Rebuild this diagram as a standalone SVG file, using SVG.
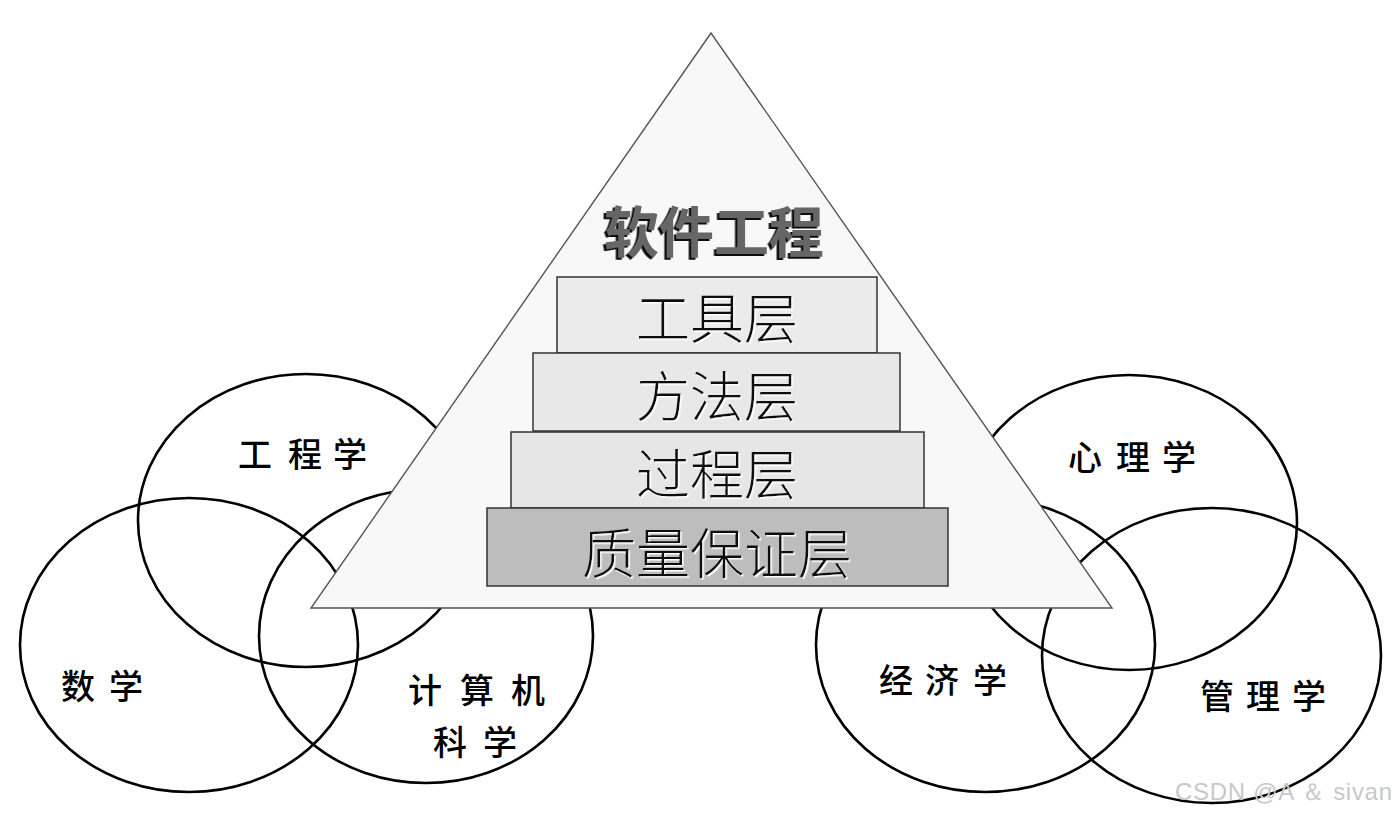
<svg xmlns="http://www.w3.org/2000/svg" width="1396" height="814" viewBox="0 0 1396 814">
<defs>
  <filter id="shadowDark" x="-10%" y="-20%" width="120%" height="140%">
    <feDropShadow dx="-2.5" dy="2" stdDeviation="0.4" flood-color="#111" flood-opacity="1"/>
  </filter>
  <filter id="emboss" x="-10%" y="-20%" width="120%" height="140%">
    <feDropShadow dx="1.5" dy="1.5" stdDeviation="0.3" flood-color="#fff" flood-opacity="1"/>
  </filter>
</defs>
<style>
.circ{fill:none;stroke:#000;stroke-width:2.6}
.box{stroke:#333;stroke-width:1.5}
.lay{font-family:"Noto Sans CJK SC","Noto Sans CJK TC",sans-serif;font-size:54px;font-weight:300;text-anchor:middle;fill:#111;filter:url(#emboss)}
.lab{font-family:"Noto Sans CJK SC","Noto Sans CJK TC",sans-serif;font-size:34px;font-weight:500;text-anchor:middle;fill:#000}
.title{font-family:"Noto Sans CJK SC","Noto Sans CJK TC",sans-serif;font-size:55px;font-weight:700;text-anchor:middle;fill:#666;filter:url(#shadowDark)}
</style>
<rect width="1396" height="814" fill="#fff"/>
<g id="circles">
  <g id="gongchengxue"><ellipse class="circ" cx="306" cy="520.5" rx="168" ry="146.5"/></g>
  <g id="shuxue"><ellipse class="circ" cx="189" cy="645" rx="169" ry="147"/></g>
  <g id="jisuanji"><ellipse class="circ" cx="426" cy="636" rx="167" ry="147"/></g>
  <g id="xinlixue"><ellipse class="circ" cx="1129" cy="522.5" rx="168" ry="147.5"/></g>
  <g id="jingjixue"><ellipse class="circ" cx="985.5" cy="645" rx="169.5" ry="147"/></g>
  <g id="guanlixue"><ellipse class="circ" cx="1211.5" cy="655.5" rx="169.5" ry="147.5"/></g>
</g>
<g id="labels">
  <text class="lab" y="467"><tspan x="255">工</tspan><tspan x="305">程</tspan><tspan x="350">学</tspan></text>
  <text class="lab" y="699"><tspan x="78">数</tspan><tspan x="126">学</tspan></text>
  <text class="lab" y="703"><tspan x="425">计</tspan><tspan x="477">算</tspan><tspan x="528">机</tspan></text>
  <text class="lab" y="755"><tspan x="450">科</tspan><tspan x="500">学</tspan></text>
  <text class="lab" y="470"><tspan x="1085">心</tspan><tspan x="1133">理</tspan><tspan x="1179">学</tspan></text>
  <text class="lab" y="693"><tspan x="896">经</tspan><tspan x="942">济</tspan><tspan x="990">学</tspan></text>
  <text class="lab" y="709"><tspan x="1217">管</tspan><tspan x="1263">理</tspan><tspan x="1309">学</tspan></text>
</g>
<g id="pyramid">
  <polygon points="711,33 311,608 1112,608" fill="#f8f8f8" stroke="#555" stroke-width="1.4"/>
  <text class="title" x="714" y="252">软件工程</text>
</g>
<g id="layers">
  <g id="tools">
    <rect class="box" x="557" y="277" width="320" height="76" fill="#ebebeb"/>
    <text class="lay" x="717" y="339">工具层</text>
  </g>
  <g id="methods">
    <rect class="box" x="533" y="353" width="367" height="78" fill="#e8e8e8"/>
    <text class="lay" x="717" y="417">方法层</text>
  </g>
  <g id="process">
    <rect class="box" x="511" y="432" width="413" height="76" fill="#e6e6e6"/>
    <text class="lay" x="717" y="495">过程层</text>
  </g>
  <g id="quality">
    <rect class="box" x="487" y="508" width="461" height="78" fill="#bdbdbd"/>
    <text class="lay" x="717" y="574">质量保证层</text>
  </g>
</g>
<text x="1175" y="800" font-family="Liberation Sans, sans-serif" font-size="24" fill="#c8c8c8" textLength="217">CSDN @A ＆ sivan</text>
</svg>
